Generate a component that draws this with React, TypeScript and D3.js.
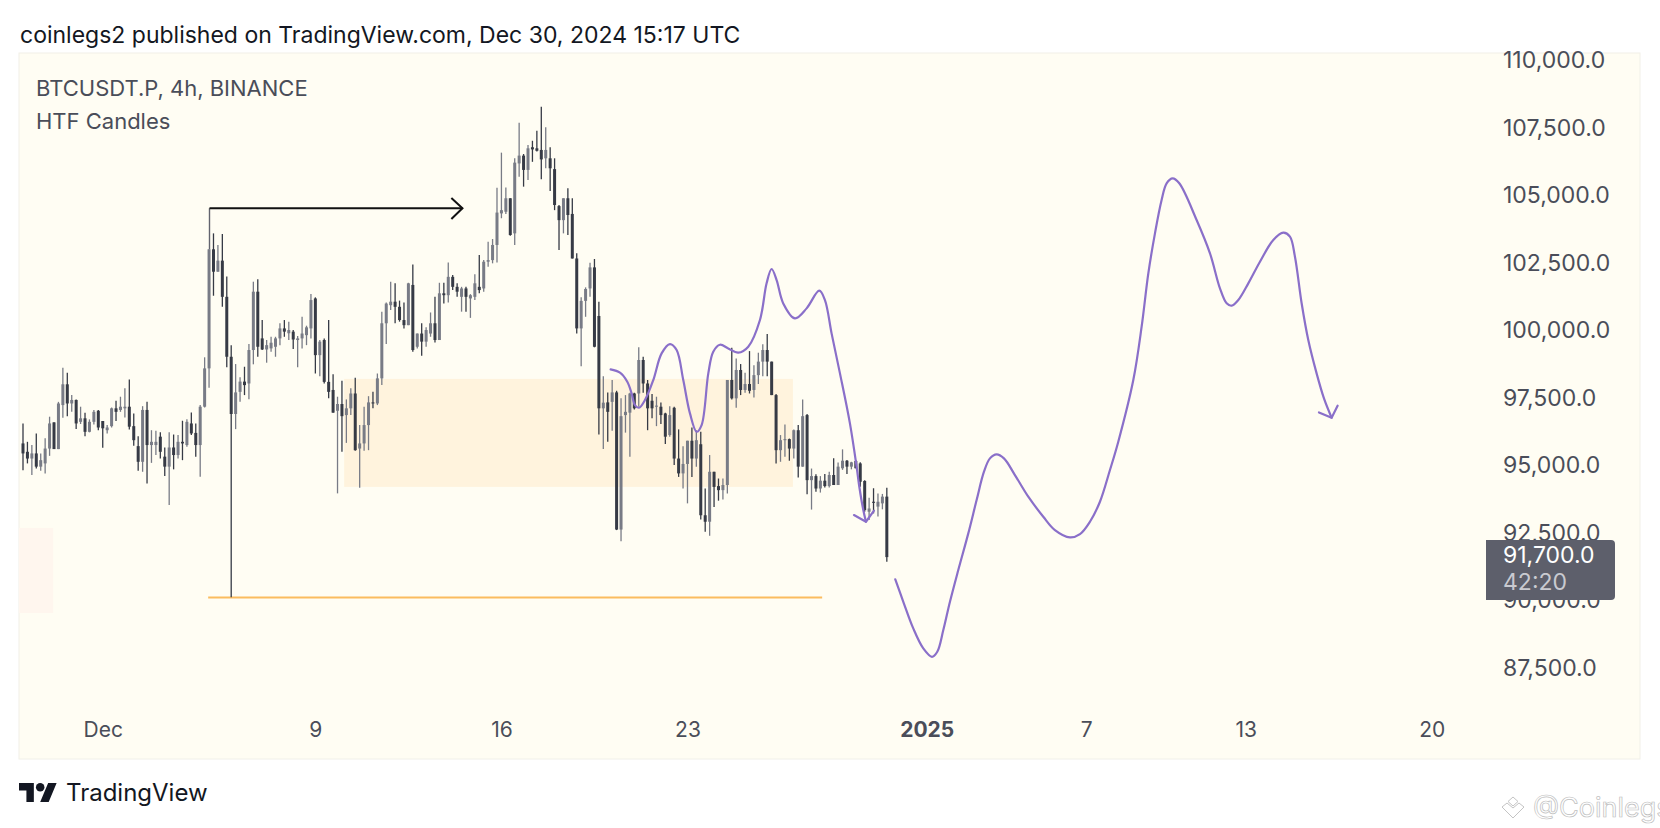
import { useEffect, useRef } from 'react';
import * as d3 from 'd3';

// BTCUSDT.P 4h bars. Bar 0 = Nov 28 00:00
const opens = [
  95810, 95500, 95250, 95440, 94950, 95070, 95620, 96590, 95600, 97230,
  98000, 97290, 97420, 96610, 96740, 96240, 96610, 97020, 96640, 96300,
  96450, 97110, 97050, 97110, 97170, 96450, 95710, 95130, 97050, 95750,
  95750, 96060, 95320, 94950, 95660, 95380, 95870, 95750, 96550, 96200,
  95750, 97170, 98590, 103000, 102170, 102580, 101240, 99020, 96900, 97720,
  98100, 98030, 99270, 101430, 99700, 99290, 99330, 99390, 99700, 100070,
  99890, 99950, 99640, 99700, 99820, 100070, 101180, 99080, 99640, 98090,
  97790, 97020, 97270, 96860, 97110, 97660, 95620, 95810, 96490, 97330,
  97290, 98220, 100260, 100930, 101060, 100870, 100380, 100190, 101680, 99390,
  99880, 99580, 99880, 100260, 99640, 101370, 101300, 101980, 101610, 101240,
  101550, 101180, 101240, 101610, 101550, 102540, 102600, 103160, 104330, 104390,
  104890, 103590, 106180, 106470, 105940, 106780, 106740, 106680, 106370, 106370,
  105970, 104600, 104080, 104890, 104310, 102660, 100070, 101090, 101550, 102330,
  100530, 97110, 97330, 97350, 97700, 92620, 96860, 96950, 97660, 97660,
  98900, 98030, 97390, 97170, 97170, 96920, 96120, 97130, 95250, 94700,
  95050, 95910, 95250, 95780, 93150, 92910, 94760, 94230, 94080, 94270,
  98160, 97480, 98530, 97790, 98010, 97790, 98340, 98840, 99270, 98840,
  97600, 95560, 95930, 95970, 95620, 96300, 94950, 96860, 94450, 94600,
  94140, 94430, 94230, 94640, 94270, 94890, 95170, 94950, 95160, 95070,
  94420, 93280, 93650, 93470, 93590, 93840,
];
const highs = [
  96550, 95870, 95750, 96180, 95440, 96000, 96800, 96590, 97350, 98610,
  98430, 97600, 97440, 97170, 96950, 96700, 97050, 97050, 96640, 96490,
  97140, 97390, 97540, 97850, 98180, 96920, 96080, 97190, 97350, 96300,
  96280, 96220, 95660, 96220, 96140, 96120, 96650, 96710, 96960, 96550,
  97230, 99000, 103000, 103590, 103160, 103570, 101990, 99450, 98750, 98260,
  98650, 99490, 101800, 101890, 100380, 99640, 99760, 99760, 100260, 100380,
  100320, 100010, 99790, 100500, 100170, 101340, 101220, 99640, 99700, 100380,
  98370, 97540, 98130, 97440, 97850, 98240, 96490, 97170, 97560, 97720,
  98400, 100690, 101030, 101800, 101740, 101100, 101030, 101760, 102440, 99880,
  100260, 100110, 100660, 101240, 101760, 101760, 102510, 102050, 101740, 101610,
  101610, 101340, 102080, 102790, 102600, 103280, 103380, 105280, 106580, 105290,
  104890, 106370, 107690, 106530, 106860, 107020, 107390, 108280, 107520, 106780,
  106370, 104640, 104890, 105260, 104890, 102850, 101220, 101590, 102500, 102640,
  101060, 98300, 97700, 98160, 97760, 97480, 97600, 97690, 97690, 99370,
  99020, 98160, 97640, 97540, 97330, 96950, 97190, 97170, 96330, 95710,
  95910, 96400, 96300, 96240, 94140, 95380, 94760, 94510, 94510, 98160,
  99350, 98960, 98750, 98430, 99230, 98710, 99170, 99480, 99860, 98840,
  97640, 96120, 96510, 95990, 96330, 96490, 97440, 96900, 94880, 94670,
  94600, 94680, 94760, 95260, 95100, 95590, 95200, 95130, 95200, 95110,
  94450, 93800, 94150, 93960, 93940, 94170,
];
const lows = [
  94820, 95070, 94640, 94880, 94800, 94700, 95350, 95600, 95600, 96760,
  96820, 96980, 96340, 96530, 96080, 96220, 96510, 96300, 95650, 96180,
  96400, 96640, 96980, 96770, 96330, 95720, 94800, 94760, 94330, 95090,
  95380, 95250, 94600, 93530, 94850, 95250, 95190, 95690, 96120, 95320,
  94580, 97140, 97870, 101280, 102170, 100870, 98630, 90110, 96340, 97350,
  97600, 97450, 98740, 99020, 99270, 98800, 99210, 99020, 99450, 99760,
  99640, 99310, 98630, 99330, 99450, 99700, 98400, 98300, 98030, 97480,
  96950, 93960, 95500, 95830, 96860, 95540, 94170, 95540, 95560, 97110,
  97230, 97970, 99490, 100750, 100260, 100320, 100070, 100190, 99210, 99330,
  99060, 99390, 99760, 99550, 99640, 100990, 101030, 101490, 101240, 100690,
  100690, 100460, 101120, 101370, 101430, 102350, 102480, 102510, 104150, 104310,
  103500, 103160, 105690, 105320, 105570, 106240, 106620, 105590, 106000, 105160,
  104450, 102970, 103590, 103530, 102660, 99880, 98670, 100500, 101240, 99370,
  96140, 95600, 95870, 96280, 92600, 92190, 96210, 95320, 97070, 97170,
  97690, 96300, 96740, 96450, 96530, 95790, 96060, 95010, 94570, 94140,
  93590, 94570, 94950, 92990, 92540, 92390, 93460, 93690, 93730, 93960,
  97440, 97130, 97600, 97690, 97660, 97510, 98010, 98300, 98300, 97600,
  95070, 95130, 95320, 95170, 95250, 94550, 94950, 93930, 93360, 94020,
  93990, 94180, 94180, 94270, 94270, 94830, 94680, 94850, 94890, 94210,
  93280, 92970, 93220, 93100, 93370, 91430,
];
const closes = [
  95440, 95250, 95440, 94950, 95190, 95620, 96550, 95600, 97290, 98000,
  97290, 97420, 96550, 96740, 96240, 96610, 96980, 96400, 96370, 96400,
  97110, 96980, 97170, 97170, 96430, 95930, 95130, 97050, 95750, 95870,
  95870, 95500, 94950, 95660, 95380, 95870, 95810, 96610, 96180, 95750,
  97170, 98590, 103000, 102170, 102580, 101240, 99020, 96900, 97700, 98100,
  97970, 99270, 101430, 99390, 99290, 99450, 99540, 99700, 100070, 99950,
  100010, 99660, 99700, 99880, 100110, 101120, 99080, 99580, 98090, 97720,
  96950, 97270, 96820, 97110, 97660, 95560, 95810, 96490, 97330, 97290,
  98220, 100260, 100990, 101060, 100870, 100380, 100190, 101740, 99270, 99880,
  99580, 100010, 100260, 99640, 101370, 101300, 101980, 101610, 101430, 101550,
  101240, 101300, 101740, 101490, 102540, 102600, 103160, 104360, 104450, 104890,
  103530, 106210, 106470, 105940, 106740, 106700, 106650, 106330, 106680, 106000,
  104640, 104080, 104890, 104270, 102660, 100070, 101090, 101530, 102330, 99390,
  97110, 97320, 96980, 97700, 92620, 96820, 96980, 97660, 97110, 98900,
  98030, 97110, 97110, 97210, 96860, 96060, 96860, 95250, 94700, 95050,
  95910, 95250, 95930, 93150, 92910, 94760, 94200, 94080, 94270, 98160,
  97480, 98530, 97790, 98010, 97760, 98340, 98840, 99270, 98840, 97600,
  95560, 95930, 95970, 95620, 96300, 94950, 96820, 94450, 94600, 94140,
  94430, 94230, 94640, 94270, 94950, 95170, 94950, 95110, 94890, 94390,
  93340, 93400, 93610, 93650, 93840, 91600,
];

// time axis: bar number of each label
const tickBars = [18, 66, 108, 150, 204, 240, 276, 318];
const tickNames = ['Dec', '9', '16', '23', '2025', '7', '13', '20'];
const priceTicks = [87500, 90000, 92500, 95000, 97500, 100000, 102500, 105000, 107500, 110000];

// drawings, as [bar, price]
const wave1: [number, number][] = [
  [132.65, 98550], [134.76, 98430], [136.41, 98095], [137.39, 97663], [138.14, 97230], [139.05, 97132],
  [140.4, 97416], [142.28, 98157], [144.16, 99145], [146.04, 99491], [147.55, 99268], [149.05, 98157],
  [150.56, 96922], [152.06, 96243], [153.19, 96490], [154.7, 98404], [155.82, 99207], [157.33, 99466],
  [159.21, 99330], [161.47, 99170], [163.72, 99392], [166.36, 100380], [167.86, 101740], [168.99, 102270],
  [170.12, 101862], [171.62, 100997], [174.26, 100442], [176.89, 100812], [179.75, 101467], [181.03, 101121],
  [182.53, 99886], [184.42, 98404], [186.67, 96552], [188.18, 94946], [188.79, 94207], [189.69, 93343],
  [190.29, 92910],
];
const wave1Head: [number, number][] = [[187.58, 93157], [190.29, 92910], [192.1, 93318]];
const wave2: [number, number][] = [
  [196.91, 90774], [198.72, 89946], [200.97, 88958], [203.23, 88217], [205.19, 87908], [206.39, 88094],
  [207.75, 88897], [209.25, 89946], [211.13, 91120], [213.39, 92478], [215.27, 93713], [216.93, 94763],
  [218.28, 95257], [219.78, 95405], [221.44, 95257], [223.92, 94639], [226.93, 93837], [230.32, 93096],
  [232.95, 92601], [236.34, 92330], [238.6, 92453], [240.85, 92910], [243.11, 93651], [245.37, 94825],
  [247.25, 95874], [250.64, 98157], [252.52, 100133], [254.03, 102109], [255.53, 103591], [257.03, 104826],
  [258.16, 105444], [259.52, 105629], [261.02, 105444], [264.93, 104085], [267.95, 102850], [270.2, 101553],
  [271.71, 100998], [272.84, 100911], [274.34, 101121], [276.6, 101739], [279.23, 102541], [282.24, 103344],
  [284.5, 103616], [286, 103468], [287.13, 102727], [288.64, 101000], [290.14, 99639], [292.02, 98404],
  [293.68, 97478], [295.41, 96762],
];
const wave2Head: [number, number][] = [[292.55, 96959], [295.41, 96762], [296.76, 97206]];
const arrowLine: [number, number][] = [[42.1, 104520], [99.2, 104520]];
const arrowHead: [number, number][] = [[96.7, 104900], [99.2, 104520], [96.7, 104120]];
const arrowDrop: [number, number][] = [[42.1, 104520], [42.1, 103000]];
const supportLine: [number, number][] = [[41.8, 90100], [180.4, 90100]];
const zone = { bar0: 72.5, bar1: 173.8, top: 98200, bottom: 94200 };
const pinkZone = { bar1: 6.8, top: 92680, bottom: 89530 };

const FONT = 'Inter, "Liberation Sans", sans-serif';
const UP = '#787b86';
const DOWN = '#363a45';
const PURPLE = '#8a6fc9';

const App = () => {
  const ref = useRef<SVGSVGElement | null>(null);

  useEffect(() => {
    const svg = d3.select(ref.current);
    svg.selectAll('*').remove();

    const width = 1660;
    const height = 828;
    const panel = { left: 19, right: 1640, top: 53, bottom: 759 };

    const x = d3.scaleLinear().domain([0, 318]).range([23, 1431.7]);
    const y = d3.scaleLinear().domain([87500, 110000]).range([667.8, 60.3]);

    svg.append('rect').attr('width', width).attr('height', height).attr('fill', '#ffffff');

    svg
      .append('text')
      .attr('x', 20)
      .attr('y', 43)
      .attr('font-size', 23)
      .attr('fill', '#131722')
      .text('coinlegs2 published on TradingView.com, Dec 30, 2024 15:17 UTC');

    svg
      .append('rect')
      .attr('x', panel.left)
      .attr('y', panel.top)
      .attr('width', panel.right - panel.left)
      .attr('height', panel.bottom - panel.top)
      .attr('fill', '#fffdf3')
      .attr('stroke', '#f1f0e8')
      .attr('stroke-width', 1);

    // zones
    svg
      .append('rect')
      .attr('x', panel.left)
      .attr('y', y(pinkZone.top))
      .attr('width', x(pinkZone.bar1) - panel.left)
      .attr('height', y(pinkZone.bottom) - y(pinkZone.top))
      .attr('fill', '#fff6ee');
    svg
      .append('rect')
      .attr('x', x(zone.bar0))
      .attr('y', y(zone.top))
      .attr('width', x(zone.bar1) - x(zone.bar0))
      .attr('height', y(zone.bottom) - y(zone.top))
      .attr('fill', '#fff3dd');

    // legend
    svg
      .append('text')
      .attr('x', 36)
      .attr('y', 96)
      .attr('font-size', 22)
      .attr('fill', '#4a4d59')
      .text('BTCUSDT.P, 4h, BINANCE');
    svg
      .append('text')
      .attr('x', 36)
      .attr('y', 129)
      .attr('font-size', 22)
      .attr('fill', '#4a4d59')
      .text('HTF Candles');

    const line = d3
      .line<[number, number]>()
      .x(d => x(d[0]))
      .y(d => y(d[1]));

    svg
      .append('path')
      .datum(supportLine)
      .attr('fill', 'none')
      .attr('stroke', '#fbbc5e')
      .attr('stroke-width', 2)
      .attr('d', line);

    svg
      .append('path')
      .datum(arrowDrop)
      .attr('fill', 'none')
      .attr('stroke', '#62636e')
      .attr('stroke-width', 1.4)
      .attr('d', line);

    // candles
    const candles = svg.append('g').selectAll('g').data(d3.range(opens.length)).join('g');
    const colour = (i: number) => (closes[i] >= opens[i] ? UP : DOWN);

    candles
      .append('line')
      .attr('x1', i => x(i))
      .attr('x2', i => x(i))
      .attr('y1', i => y(highs[i]))
      .attr('y2', i => y(lows[i]))
      .attr('stroke', colour)
      .attr('stroke-width', 1.3);
    candles
      .append('rect')
      .attr('x', i => x(i) - 1.5)
      .attr('width', 3)
      .attr('y', i => y(Math.max(opens[i], closes[i])))
      .attr('height', i => Math.max(1, Math.abs(y(opens[i]) - y(closes[i]))))
      .attr('fill', colour);

    // hand drawn lines
    svg
      .append('path')
      .datum(arrowLine)
      .attr('fill', 'none')
      .attr('stroke', '#111111')
      .attr('stroke-width', 2)
      .attr('d', line);
    svg
      .append('path')
      .datum(arrowHead)
      .attr('fill', 'none')
      .attr('stroke', '#111111')
      .attr('stroke-width', 2)
      .attr('d', line);

    const smooth = line.curve(d3.curveCatmullRom.alpha(0.5));
    [wave1, wave2].forEach(w => {
      svg
        .append('path')
        .datum(w)
        .attr('fill', 'none')
        .attr('stroke', PURPLE)
        .attr('stroke-width', 2.2)
        .attr('stroke-linecap', 'round')
        .attr('d', smooth);
    });
    const straight = d3
      .line<[number, number]>()
      .x(d => x(d[0]))
      .y(d => y(d[1]));
    [wave1Head, wave2Head].forEach(w => {
      svg
        .append('path')
        .datum(w)
        .attr('fill', 'none')
        .attr('stroke', PURPLE)
        .attr('stroke-width', 2.2)
        .attr('stroke-linecap', 'round')
        .attr('stroke-linejoin', 'round')
        .attr('d', straight);
    });

    // price axis
    const yAxis = svg
      .append('g')
      .attr('transform', 'translate(1503,0)')
      .call(
        d3
          .axisRight(y)
          .tickValues(priceTicks)
          .tickSize(0)
          .tickPadding(0)
          .tickFormat(d => d3.format(',.1f')(d as number)),
      );
    yAxis.select('.domain').remove();
    yAxis
      .selectAll('text')
      .attr('font-family', FONT)
      .attr('font-size', 23)
      .attr('fill', '#4a4d59');

    // time axis
    const xAxis = svg
      .append('g')
      .attr('transform', 'translate(0,722)')
      .call(
        d3
          .axisBottom(x)
          .tickValues(tickBars)
          .tickSize(0)
          .tickPadding(0)
          .tickFormat((_, i) => tickNames[i]),
      );
    xAxis.select('.domain').remove();
    xAxis
      .selectAll('text')
      .attr('font-family', FONT)
      .attr('font-size', 21)
      .attr('fill', '#4a4d59')
      .attr('font-weight', (_, i) => (tickNames[i] === '2025' ? 700 : 400));

    // last price tag
    svg
      .append('path')
      .attr('d', 'M1486,540H1611a4,4 0 0 1 4,4V596a4,4 0 0 1 -4,4H1486Z')
      .attr('fill', '#5d5f6b');
    svg
      .append('text')
      .attr('x', 1503)
      .attr('y', 563)
      .attr('font-size', 23)
      .attr('fill', '#ffffff')
      .text('91,700.0');
    svg
      .append('text')
      .attr('x', 1503)
      .attr('y', 590)
      .attr('font-size', 23)
      .attr('fill', '#c9cad0')
      .text('42:20');

    // footer logo
    const logo = svg.append('g').attr('transform', 'translate(19,778.8) scale(1.06)').attr('fill', '#131722');
    logo.append('path').attr('d', 'M14 22H7V11H0V4h14v18ZM28 22h-8l7.5-18h8L28 22Z');
    logo.append('circle').attr('cx', 20).attr('cy', 8).attr('r', 4);
    svg
      .append('text')
      .attr('x', 66)
      .attr('y', 801)
      .attr('font-size', 24)
      .attr('fill', '#131722')
      .text('TradingView');

    // watermark
    const mark = svg
      .append('g')
      .attr('fill', 'none')
      .attr('stroke', '#c4c4c4')
      .attr('stroke-width', 1);
    mark.append('path').attr('d', 'M1513,797l5,4.5l-5,4.5l-5,-4.5ZM1502,807l5,-4l6,5l6,-5l5,4l-11,11Z');
    svg
      .append('text')
      .attr('x', 1533)
      .attr('y', 817)
      .attr('font-size', 27)
      .attr('fill', '#ffffff')
      .attr('stroke', '#bdbdbd')
      .attr('stroke-width', 0.7)
      .text('@Coinlegs');
  }, []);

  return (
    <svg
      ref={ref}
      width={1660}
      height={828}
      style={{ position: 'absolute', left: 0, top: 0, display: 'block', fontFamily: FONT }}
    ></svg>
  );
};

export default App;
